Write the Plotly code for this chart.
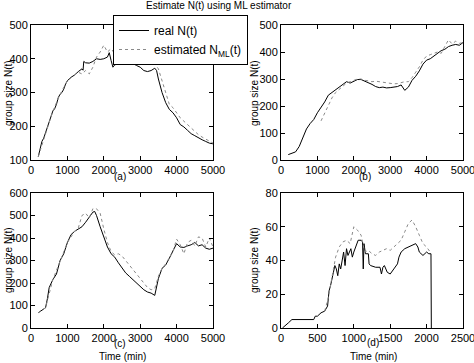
import plotly.graph_objects as go

# ---------------- data ----------------
# (a)
a_t_real = [200, 250, 300, 350, 400, 450, 500, 550, 600, 650, 700, 750, 800, 850, 900, 950, 1000, 1100, 1200, 1300, 1400, 1430, 1450, 1500, 1600, 1700, 1800, 1900, 2000, 2100, 2150, 2200, 2250, 2300, 2400, 2500, 2550, 2600, 2700, 2800, 2900, 3000, 3100, 3200, 3300, 3400, 3450, 3500, 3600, 3700, 3800, 3900, 4000, 4100, 4200, 4300, 4400, 4500, 4600, 4700, 4800, 4900, 5000]
a_real = [110, 135, 155, 165, 180, 195, 210, 228, 245, 252, 265, 285, 295, 300, 310, 325, 335, 345, 352, 362, 370, 366, 392, 388, 387, 392, 400, 398, 400, 405, 418, 395, 375, 382, 385, 393, 398, 400, 392, 385, 380, 375, 365, 362, 365, 372, 365, 340, 300, 270, 250, 240, 225, 205, 198, 188, 178, 172, 165, 160, 155, 150, 148]
a_t_est = [200, 400, 600, 800, 1000, 1200, 1300, 1400, 1500, 1600, 1700, 1800, 1900, 2000, 2100, 2200, 2300, 2400, 2500, 2600, 2700, 2800, 2900, 3000, 3100, 3200, 3300, 3400, 3500, 3600, 3700, 3800, 3900, 4000, 4100, 4200, 4300, 4400, 4500, 4600, 4700, 4800, 4900, 5000]
a_est = [110, 180, 245, 295, 335, 352, 360, 355, 365, 355, 375, 405, 420, 440, 420, 430, 415, 410, 415, 405, 400, 395, 395, 400, 392, 395, 388, 385, 370, 335, 295, 265, 255, 240, 225, 215, 205, 195, 182, 175, 168, 162, 155, 150]

# (b)
b_t_real = [200, 300, 400, 500, 600, 700, 800, 900, 1000, 1100, 1200, 1300, 1400, 1500, 1600, 1700, 1800, 1900, 2000, 2100, 2200, 2300, 2400, 2500, 2600, 2700, 2800, 2900, 3000, 3100, 3200, 3300, 3350, 3400, 3500, 3600, 3700, 3800, 3900, 4000, 4100, 4200, 4300, 4400, 4500, 4600, 4700, 4800, 4900, 5000]
b_real = [20, 25, 30, 50, 80, 115, 135, 150, 175, 195, 215, 240, 250, 260, 270, 280, 290, 285, 292, 298, 298, 292, 288, 280, 272, 268, 270, 267, 268, 270, 272, 278, 268, 258, 270, 295, 310, 330, 355, 370, 375, 385, 392, 405, 410, 420, 425, 428, 425, 435]
b_t_est = [1100, 1200, 1300, 1400, 1500, 1600, 1700, 1800, 1900, 2000, 2100, 2200, 2300, 2400, 2500, 2600, 2700, 2800, 2900, 3000, 3100, 3200, 3300, 3400, 3500, 3600, 3700, 3800, 3900, 4000, 4100, 4200, 4300, 4400, 4500, 4600, 4700, 4800, 4900, 5000]
b_est = [145, 175, 200, 230, 250, 262, 275, 285, 290, 295, 300, 300, 295, 293, 290, 292, 290, 288, 285, 283, 282, 283, 287, 290, 290, 305, 325, 345, 370, 385, 390, 395, 400, 395, 420, 445, 430, 440, 432, 435]

# (c)
c_t_real = [200, 300, 400, 450, 500, 600, 700, 800, 900, 1000, 1100, 1200, 1300, 1400, 1500, 1600, 1700, 1750, 1800, 1900, 2000, 2100, 2200, 2300, 2400, 2500, 2600, 2700, 2800, 2900, 3000, 3100, 3200, 3300, 3400, 3500, 3600, 3700, 3800, 3900, 4000, 4100, 4200, 4300, 4400, 4500, 4600, 4700, 4800, 4900, 5000]
c_real = [68, 80, 90, 130, 180, 215, 240, 300, 330, 380, 415, 430, 440, 450, 470, 495, 515, 518, 500, 450, 400, 360, 330, 315, 290, 265, 245, 230, 215, 200, 185, 170, 160, 155, 145, 220, 265, 280, 310, 340, 375, 360, 358, 365, 370, 380, 365, 370, 355, 350, 355]
c_t_est = [200, 400, 600, 800, 1000, 1200, 1300, 1400, 1500, 1600, 1700, 1800, 1900, 2000, 2100, 2200, 2300, 2400, 2500, 2600, 2700, 2800, 2900, 3000, 3100, 3200, 3300, 3400, 3500, 3600, 3700, 3800, 3900, 4000, 4100, 4200, 4300, 4400, 4500, 4600, 4700, 4800, 4900, 5000]
c_est = [68, 90, 215, 300, 380, 430, 445, 500, 510, 490, 530, 530, 510, 440, 380, 340, 325, 330, 320, 300, 280, 260, 240, 215, 195, 180, 170, 175, 230, 265, 285, 310, 340, 395, 370, 330, 380, 390, 365, 405, 400, 360, 400, 360]

# (d)
d_t_real = [20, 50, 100, 150, 200, 450, 470, 500, 550, 600, 640, 660, 680, 700, 720, 740, 760, 780, 800, 820, 840, 860, 880, 900, 920, 940, 960, 980, 1000, 1060, 1080, 1100, 1120, 1130, 1140, 1160, 1200, 1210, 1230, 1300, 1360, 1380, 1400, 1420, 1460, 1500, 1550, 1600, 1620, 1650, 1700, 1750, 1800, 1850, 1880, 1900, 1950, 2000, 2030, 2060, 2065]
d_real = [0, 1, 3, 5, 5, 5, 7, 7, 9, 10, 13, 22, 25, 30, 33, 37, 35, 31, 38, 35, 40, 45, 37, 47, 43, 45, 47, 42, 45, 52, 52, 52, 51, 35, 50, 44, 44, 38, 37, 36, 36, 32, 36, 37, 33, 32, 35, 38, 42, 45, 47, 48, 49, 50, 48, 45, 43, 45, 44, 44, 0]
d_t_est = [600, 650, 700, 750, 800, 850, 900, 950, 1000, 1050, 1100, 1150, 1200, 1250, 1300, 1350, 1400, 1450, 1500, 1550, 1600, 1650, 1700, 1750, 1800, 1850, 1900, 1950, 2000, 2050]
d_est = [10, 18, 30, 42, 48, 51, 52, 50, 60, 58, 55, 45, 46, 44, 43, 45, 46, 47, 46, 48, 50, 52, 57, 62, 64, 60, 55, 50, 48, 45]

panels = [
    ("x", "y", a_t_real, a_real, a_t_est, a_est, [0, 5000], [100, 500], [0, 1000, 2000, 3000, 4000, 5000], [100, 200, 300, 400, 500]),
    ("x2", "y2", b_t_real, b_real, b_t_est, b_est, [0, 5000], [0, 500], [0, 1000, 2000, 3000, 4000, 5000], [0, 100, 200, 300, 400, 500]),
    ("x3", "y3", c_t_real, c_real, c_t_est, c_est, [0, 5000], [0, 600], [0, 1000, 2000, 3000, 4000, 5000], [0, 100, 200, 300, 400, 500, 600]),
    ("x4", "y4", d_t_real, d_real, d_t_est, d_est, [0, 2500], [0, 80], [0, 500, 1000, 1500, 2000, 2500], [0, 20, 40, 60, 80]),
]

W, H = 474, 363
boxes = [  # left, right, top, bottom in px
    (31, 213, 25, 160),
    (281, 463, 25, 160),
    (31, 213, 193, 328),
    (281, 463, 193, 328),
]

fig = go.Figure()
layout = dict(
    width=W, height=H,
    margin=dict(l=0, r=0, t=0, b=0, autoexpand=False),
    paper_bgcolor="white", plot_bgcolor="white",
    font=dict(family="Liberation Sans, Arial, sans-serif", size=11, color="black"),
    showlegend=True,
    legend=dict(x=113 / W, y=1 - 15 / H, xanchor="left", yanchor="top",
                bgcolor="white", bordercolor="black", borderwidth=1,
                font=dict(size=12), tracegroupgap=0, itemwidth=30),
)

for i, (xa, ya, tr, vr, te, ve, xr, yr, xt, yt) in enumerate(panels):
    fig.add_trace(go.Scatter(x=tr, y=vr, mode="lines", xaxis=xa, yaxis=ya,
                             line=dict(color="black", width=1),
                             name="real N(t)", showlegend=(i == 0)))
    fig.add_trace(go.Scatter(x=te, y=ve, mode="lines", xaxis=xa, yaxis=ya,
                             line=dict(color="#8a8a8a", width=1, dash="dot"),
                             name="estimated N<sub>ML</sub>(t)", showlegend=(i == 0)))
    l, r, t, b = boxes[i]
    sfx = "" if i == 0 else str(i + 1)
    common = dict(showgrid=False, zeroline=False, showline=True, linecolor="black",
                  linewidth=1, mirror="ticks", ticks="inside", ticklen=4,
                  tickcolor="black", tickfont=dict(size=11), automargin=False,
                  ticklabeloverflow="allow")
    layout["xaxis" + sfx] = dict(domain=[l / W, r / W], range=xr, tickvals=xt,
                                 anchor="y" + sfx, **common)
    layout["yaxis" + sfx] = dict(domain=[1 - b / H, 1 - t / H], range=yr, tickvals=yt,
                                 anchor="x" + sfx, **common)

ann = []
ann.append(dict(text="Estimate N(t) using ML estimator", x=219 / W, y=1 - 5 / H,
                xref="paper", yref="paper", showarrow=False, font=dict(size=10),
                xanchor="center", yanchor="middle"))
for (lbl, cx, cy) in [("(a)", 120, 176), ("(b)", 365, 177), ("(c)", 120, 343), ("(d)", 373, 342)]:
    ann.append(dict(text=lbl, x=cx / W, y=1 - cy / H, xref="paper", yref="paper",
                    showarrow=False, font=dict(size=10), xanchor="center", yanchor="middle"))
for (cx, cy) in [(8, 93), (254, 93), (8, 260), (254, 260)]:
    ann.append(dict(text="group size N(t)", x=cx / W, y=1 - cy / H, xref="paper", yref="paper",
                    showarrow=False, textangle=-90, font=dict(size=10),
                    xanchor="center", yanchor="middle"))
for cx in [122, 373]:
    ann.append(dict(text="Time (min)", x=cx / W, y=1 - 356 / H, xref="paper", yref="paper",
                    showarrow=False, font=dict(size=10), xanchor="center", yanchor="middle"))
layout["annotations"] = ann

fig.update_layout(**layout)
fig.write_html("out.html", config={"displayModeBar": False},
               post_script="document.body.style.margin='0';document.body.style.overflow='hidden';")
